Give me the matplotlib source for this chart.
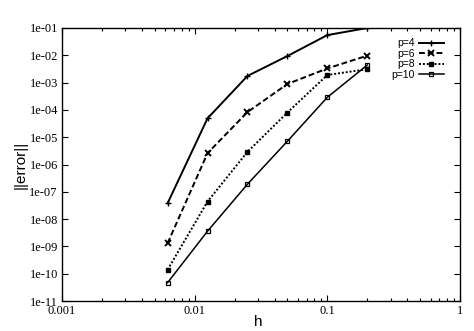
import matplotlib
matplotlib.use("Agg")
import matplotlib.pyplot as plt
from matplotlib.ticker import LogLocator, FixedLocator, FixedFormatter, NullFormatter

h = [0.00625, 0.0125, 0.025, 0.05, 0.1, 0.2]
err_p4 = [3.8e-8, 4.9e-5, 1.75e-3, 9.4e-3, 5.5e-2, 1.0e-1]
err_p6 = [1.3e-9, 2.6e-6, 8.3e-5, 8.9e-4, 3.3e-3, 9.7e-3]
err_p8 = [1.4e-10, 4.4e-8, 2.9e-6, 8.0e-5, 1.9e-3, 3.1e-3]
err_p10 = [4.7e-11, 3.6e-9, 1.9e-7, 7.1e-6, 2.9e-4, 4.4e-3]
labels = ["p=4", "p=6", "p=8", "p=10"]
yticks = [1e-11, 1e-10, 1e-9, 1e-8, 1e-7, 1e-6, 1e-5, 1e-4, 1e-3, 1e-2, 1e-1]
ytick_labels = ["1e-11", "1e-10", "1e-09", "1e-08", "1e-07", "1e-06",
                "1e-05", "1e-04", "1e-03", "1e-02", "1e-01"]
xticks = [0.001, 0.01, 0.1, 1]
xtick_labels = ["0.001", "0.01", "0.1", "1"]

fig = plt.figure(figsize=(4.74, 3.31), dpi=100)
ax = fig.add_axes([62/474, 1-301/331, (460-62)/474, (301-28)/331])

serif = ["Liberation Serif", "DejaVu Serif"]
sans = ["Liberation Sans", "DejaVu Sans"]

ax.plot(h, err_p4, color="black", lw=1.4, ls="-", marker="+", ms=5, mew=1, label=labels[0])
ax.plot(h, err_p6, color="black", lw=1.4, ls=(0, (3, 1.5)), marker="x", ms=4.5, mew=1.4, label=labels[1])
ax.plot(h, err_p8, color="black", lw=1.4, ls=(0, (1, 1)), marker="s", ms=3.5, mew=1, label=labels[2])
ax.plot(h, err_p10, color="black", lw=1.1, ls="-", marker="s", ms=3.5, mew=0.9, mfc="none", label=labels[3])

ax.set_xscale("log")
ax.set_yscale("log")
ax.set_xlim(0.001, 1)
ax.set_ylim(1e-11, 1e-1)

ax.xaxis.set_major_locator(FixedLocator(xticks))
ax.xaxis.set_major_formatter(FixedFormatter(xtick_labels))
ax.xaxis.set_minor_locator(LogLocator(base=10, subs=range(2, 10)))
ax.xaxis.set_minor_formatter(NullFormatter())
ax.yaxis.set_major_locator(FixedLocator(yticks))
ax.yaxis.set_major_formatter(FixedFormatter(ytick_labels))
ax.yaxis.set_minor_locator(FixedLocator([]))

ax.tick_params(which="both", direction="in", top=True, right=True, width=0.8)
ax.tick_params(which="major", length=4, labelsize=9)
ax.tick_params(which="minor", length=2.5)
for lab in ax.get_xticklabels() + ax.get_yticklabels():
    lab.set_family(serif)
ax.tick_params(axis="x", pad=3)
ax.tick_params(axis="y", pad=3)
for s in ax.spines.values():
    s.set_linewidth(1.0)

ax.set_xlabel("h", family=sans, fontsize=11)
ax.xaxis.set_label_coords(0.492, -0.05)
ax.set_ylabel("||error||", family=sans, fontsize=11, labelpad=1)

leg = ax.legend(loc="upper right", bbox_to_anchor=(0.975, 0.985), frameon=False,
                markerfirst=False, handlelength=2.4,
                labelspacing=0.05, handletextpad=0.4, borderaxespad=0.2,
                prop={"family": sans, "size": 7.5})
for t in leg.get_texts():
    t.set_ha("right")

fig.savefig("out.png", dpi=100)
